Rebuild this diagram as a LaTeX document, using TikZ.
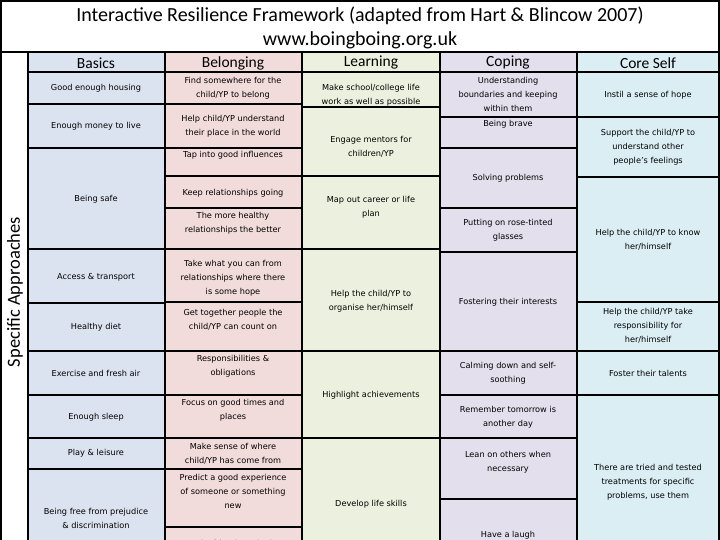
\documentclass[tikz,border=0pt]{standalone}
\usepackage{fontspec}
\setmainfont{DejaVu Sans}
\newfontfamily\titlefont{Carlito}
\definecolor{cba}{HTML}{DCE3F0}
\definecolor{cbe}{HTML}{F2DCDB}
\definecolor{cle}{HTML}{EBF1DE}
\definecolor{cco}{HTML}{E4DFEC}
\definecolor{ccs}{HTML}{DBEEF4}
\tikzset{cell/.style={draw=black,line width=1.4pt},
 txt/.style={align=center,font=\fontsize{8.2}{14}\selectfont,inner sep=0pt},
 hdr/.style={font=\titlefont\fontsize{15.5}{17}\selectfont,inner sep=0pt}}
\begin{document}
\begin{tikzpicture}[x=1pt,y=-1pt]
\useasboundingbox (0,0) rectangle (720,540);
\clip (0,0) rectangle (720,540);
\fill[white] (0,0) rectangle (720,540);
% title and side
\draw[cell] (1,1) rectangle (719,52);
\draw[cell] (1,52) rectangle (28,541);
\node[font=\titlefont\fontsize{20}{24}\selectfont,align=center] (title) at (360,28) {Interactive Resilience Framework (adapted from Hart \& Blincow 2007)\\www.boingboing.org.uk};
\node[rotate=90,font=\titlefont\fontsize{18.5}{20}\selectfont] (side) at (15,292) {Specific Approaches};
% headers
\draw[cell,fill=cba] (28,52) rectangle (165,72);
\draw[cell,fill=cbe] (165,52) rectangle (302,72);
\draw[cell,fill=cle] (302,52) rectangle (440,72);
\draw[cell,fill=cco] (440,52) rectangle (577,72);
\draw[cell,fill=ccs] (577,52) rectangle (719,72);
\node[hdr] (h1) at (96,63) {Basics};
\node[hdr] (h2) at (233,63) {Belonging};
\node[hdr] (h3) at (371,63) {Learning};
\node[hdr] (h4) at (508,63) {Coping};
\node[hdr] (h5) at (648,63) {Core Self};
% Basics
\foreach \a/\b in {72/104,104/148,148/249,249/303,303/351,351/395,395/438,438/469,469/545}
  \draw[cell,fill=cba] (28,\a) rectangle (165,\b);
% Belonging
\foreach \a/\b in {72/104,104/148,148/176,176/208,208/249,249/302,302/351,351/395,395/438,438/469,469/527,527/545}
  \draw[cell,fill=cbe] (165,\a) rectangle (302,\b);
% Learning
\foreach \a/\b in {72/107,107/176,176/249,249/351,351/438,438/545}
  \draw[cell,fill=cle] (302,\a) rectangle (440,\b);
% Coping
\foreach \a/\b in {72/117,117/148,148/208,208/252,252/351,351/395,395/438,438/499,499/545}
  \draw[cell,fill=cco] (440,\a) rectangle (577,\b);
% Core self
\foreach \a/\b in {72/117,117/177,177/302,302/351,351/395,395/545}
  \draw[cell,fill=ccs] (577,\a) rectangle (719,\b);
% Basics text
\node[txt] (b1) at (96,88) {Good enough housing};
\node[txt] (b2) at (96,126) {Enough money to live};
\node[txt] (b3) at (96,199) {Being safe};
\node[txt] (b4) at (96,277) {Access \& transport};
\node[txt] (b5) at (96,327) {Healthy diet};
\node[txt] (b6) at (96,373) {Exercise and fresh air};
\node[txt] (b7) at (96,417) {Enough sleep};
\node[txt] (b8) at (96,453) {Play \& leisure};
\node[txt] (b9) at (96,518) {Being free from prejudice\\\& discrimination};
% Belonging text
\node[txt] (e1) at (233,88) {Find somewhere for the\\child/YP to belong};
\node[txt] (e2) at (233,126) {Help child/YP understand\\their place in the world};
\node[txt] (e3) at (233,155) {Tap into good influences};
\node[txt] (e4) at (233,193) {Keep relationships going};
\node[txt] (e5) at (233,223) {The more healthy\\relationships the better};
\node[txt] (e6) at (233,278) {Take what you can from\\relationships where there\\is some hope};
\node[txt] (e7) at (233,320) {Get together people the\\child/YP can count on};
\node[txt] (e8) at (233,366) {Responsibilities \&\\obligations};
\node[txt] (e9) at (233,410) {Focus on good times and\\places};
\node[txt] (e10) at (233,454) {Make sense of where\\child/YP has come from};
\node[txt] (e11) at (233,491) {Predict a good experience\\of someone or something\\new};
\node[txt] (e12) at (233,543) {Make friends and mix};
% Learning text
\node[txt] (l1) at (371,95) {Make school/college life\\work as well as possible};
\node[txt] (l2) at (371,147) {Engage mentors for\\children/YP};
\node[txt] (l3) at (371,207) {Map out career or life\\plan};
\node[txt] (l4) at (371,301) {Help the child/YP to\\organise her/himself};
\node[txt] (l5) at (371,395) {Highlight achievements};
\node[txt] (l6) at (371,504) {Develop life skills};
% Coping text
\node[txt] (c1) at (508,94) {Understanding\\boundaries and keeping\\within them};
\node[txt] (c2) at (508,124) {Being brave};
\node[txt] (c3) at (508,178) {Solving problems};
\node[txt] (c4) at (508,230) {Putting on rose-tinted\\glasses};
\node[txt] (c5) at (508,302) {Fostering their interests};
\node[txt] (c6) at (508,373) {Calming down and self-\\soothing};
\node[txt] (c7) at (508,417) {Remember tomorrow is\\another day};
\node[txt] (c8) at (508,462) {Lean on others when\\necessary};
\node[txt] (c9) at (508,535) {Have a laugh};
% Core self text
\node[txt] (s1) at (648,95) {Instil a sense of hope};
\node[txt] (s2) at (648,147) {Support the child/YP to\\understand other\\people’s feelings};
\node[txt] (s3) at (648,240) {Help the child/YP to know\\her/himself};
\node[txt] (s4) at (648,326) {Help the child/YP take\\responsibility for\\her/himself};
\node[txt] (s5) at (648,373) {Foster their talents};
\node[txt] (s6) at (648,482) {There are tried and tested\\treatments for specific\\problems, use them};
\end{tikzpicture}
\end{document}
